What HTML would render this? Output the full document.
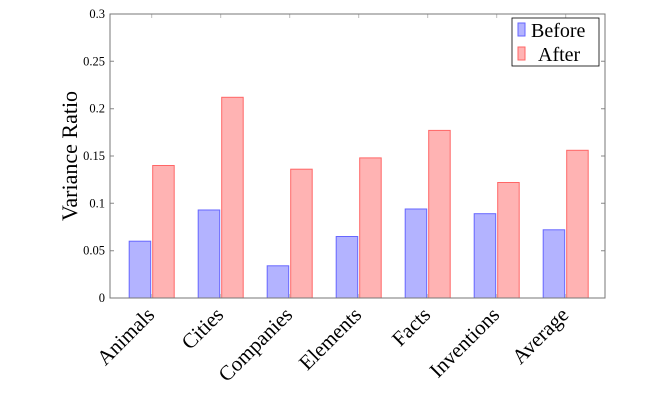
<!DOCTYPE html><html><head><style>body{margin:0;background:#fff}svg{display:block;font-family:"Liberation Serif",serif}</style></head><body>
<svg width="663" height="413" xmlns="http://www.w3.org/2000/svg">
<g stroke-width="1">
<rect x="129.2" y="241.2" width="21.5" height="56.8" fill="#b3b3ff" stroke="#6666ff"/>
<rect x="152.7" y="165.5" width="21.5" height="132.5" fill="#ffb3b3" stroke="#ff6666"/>
<rect x="198.2" y="210" width="21.5" height="88" fill="#b3b3ff" stroke="#6666ff"/>
<rect x="221.7" y="97.3" width="21.5" height="200.7" fill="#ffb3b3" stroke="#ff6666"/>
<rect x="267.2" y="265.8" width="21.5" height="32.2" fill="#b3b3ff" stroke="#6666ff"/>
<rect x="290.7" y="169.2" width="21.5" height="128.8" fill="#ffb3b3" stroke="#ff6666"/>
<rect x="336.2" y="236.5" width="21.5" height="61.5" fill="#b3b3ff" stroke="#6666ff"/>
<rect x="359.7" y="157.9" width="21.5" height="140.1" fill="#ffb3b3" stroke="#ff6666"/>
<rect x="405.2" y="209" width="21.5" height="89" fill="#b3b3ff" stroke="#6666ff"/>
<rect x="428.7" y="130.4" width="21.5" height="167.6" fill="#ffb3b3" stroke="#ff6666"/>
<rect x="474.2" y="213.7" width="21.5" height="84.3" fill="#b3b3ff" stroke="#6666ff"/>
<rect x="497.7" y="182.5" width="21.5" height="115.5" fill="#ffb3b3" stroke="#ff6666"/>
<rect x="543.2" y="229.8" width="21.5" height="68.2" fill="#b3b3ff" stroke="#6666ff"/>
<rect x="566.7" y="150.3" width="21.5" height="147.7" fill="#ffb3b3" stroke="#ff6666"/>
</g>
<g stroke="#bbb">
<path d="M151.7 14v4M151.7 298v-4M220.7 14v4M220.7 298v-4M289.7 14v4M289.7 298v-4M358.7 14v4M358.7 298v-4M427.7 14v4M427.7 298v-4M496.7 14v4M496.7 298v-4M565.7 14v4M565.7 298v-4"/>
</g>
<g stroke="#888">
<path d="M110 298h4M110 250.7h4M110 203.3h4M110 156h4M110 108.7h4M110 61.3h4M110 14h4M605 298h-4M605 250.7h-4M605 203.3h-4M605 156h-4M605 108.7h-4M605 61.3h-4M605 14h-4"/>
</g>
<g font-size="12.5" text-anchor="end">
<text x="105" y="302">0</text>
<text x="105" y="254.7">0.05</text>
<text x="105" y="207.3">0.1</text>
<text x="105" y="160">0.15</text>
<text x="105" y="112.7">0.2</text>
<text x="105" y="65.3">0.25</text>
<text x="105" y="18">0.3</text>
</g>
<g font-size="21" text-anchor="end">
<text transform="translate(155.7,316) rotate(-45)">Animals</text>
<text transform="translate(224.7,316) rotate(-45)">Cities</text>
<text transform="translate(293.7,316) rotate(-45)">Companies</text>
<text transform="translate(362.7,316) rotate(-45)">Elements</text>
<text transform="translate(431.7,316) rotate(-45)">Facts</text>
<text transform="translate(500.7,316) rotate(-45)">Inventions</text>
<text transform="translate(569.7,316) rotate(-45)">Average</text>
</g>
<rect x="110" y="14" width="495" height="284" fill="none" stroke="#777" stroke-width="1"/>
<text transform="translate(77,156) rotate(-90)" text-anchor="middle" font-size="22">Variance Ratio</text>
<rect x="512" y="18" width="87" height="48" fill="#fff" stroke="#000" stroke-width="0.8"/>
<rect x="518" y="23" width="7" height="13" fill="#b3b3ff" stroke="#6666ff"/>
<text x="531" y="37" font-size="20">Before</text>
<rect x="518" y="47" width="7" height="13" fill="#ffb3b3" stroke="#ff6666"/>
<text x="538" y="61" font-size="20">After</text>
</svg></body></html>
